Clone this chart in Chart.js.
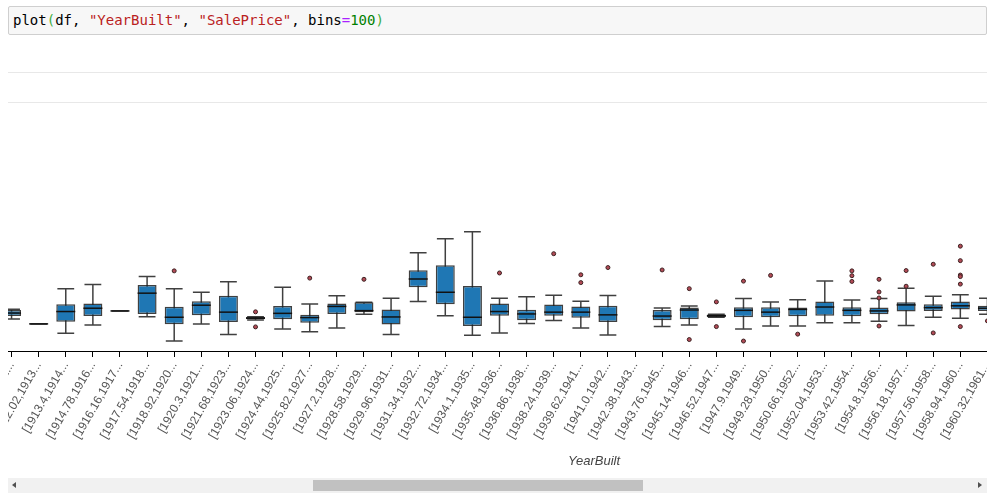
<!DOCTYPE html>
<html>
<head>
<meta charset="utf-8">
<script src="https://cdn.jsdelivr.net/npm/chart.js@4.4.1/dist/chart.umd.min.js"></script>
<style>
	body { margin: 0; background: #fff; width: 989px; height: 497px; overflow: hidden; position: relative; }
	.cell { position: absolute; left: 8px; top: 6px; width: 977px; height: 27px; background: #f7f7f7; border: 1px solid #cfcfcf; border-radius: 2px; }
	.code { position: absolute; left: 4px; top: 5px; font: 14px "DejaVu Sans Mono", monospace; color: #000; white-space: pre; }
	.s { color: #ba2121; } .o { color: #aa22ff; } .n { color: #008000; } .p { color: #3fae3f; }
	.rule { position: absolute; left: 8px; width: 979px; height: 1px; background: #e8e8e8; }
	#plotBox { position: absolute; left: 8px; top: 105px; width: 979px; height: 370px; overflow: hidden; }
	#plotBox canvas { position: absolute; left: -9.55px; top: 5px; }
	.xtitle { position: absolute; left: 568px; top: 453px; font: italic 13px "Liberation Sans", Arial, sans-serif; color: #444; }
	.scroll { position: absolute; left: 8px; top: 478px; width: 979px; height: 15px; background: #f1f1f1; }
	.thumb { position: absolute; left: 305px; top: 2px; width: 330px; height: 11px; background: #c1c1c1; }
	.arrL { position: absolute; left: 4px; top: 4px; width: 0; height: 0; border-top: 3.5px solid transparent; border-bottom: 3.5px solid transparent; border-right: 4px solid #505050; }
	.arrR { position: absolute; right: 5px; top: 4px; width: 0; height: 0; border-top: 3.5px solid transparent; border-bottom: 3.5px solid transparent; border-left: 4px solid #505050; }
</style>
</head>
<body>
<div class="cell"><div class="code">plot<span class="p">(</span>df, <span class="s">"YearBuilt"</span>, <span class="s">"SalePrice"</span>, bins<span class="o">=</span><span class="n">100</span><span class="p">)</span></div></div>
<div class="rule" style="top:72px"></div>
<div class="rule" style="top:102px"></div>
<div id="plotBox"><canvas id="boxChart" width="1003" height="362" style="width:1003px;height:362px"></canvas></div>
<div class="xtitle">YearBuilt</div>
<div class="scroll"><div class="arrL"></div><div class="thumb"></div><div class="arrR"></div></div>
<script>
// Bin label YearBuilt (terpotong seperti di gambar)
const binLabels = [
	'[1910.64,1912...', '[1912.02,1913...', '[1913.4,1914...', '[1914.78,1916...', '[1916.16,1917...',
	'[1917.54,1918...', '[1918.92,1920...', '[1920.3,1921...', '[1921.68,1923...', '[1923.06,1924...',
	'[1924.44,1925...', '[1925.82,1927...', '[1927.2,1928...', '[1928.58,1929...', '[1929.96,1931...',
	'[1931.34,1932...', '[1932.72,1934...', '[1934.1,1935...', '[1935.48,1936...', '[1936.86,1938...',
	'[1938.24,1939...', '[1939.62,1941...', '[1941.0,1942...', '[1942.38,1943...', '[1943.76,1945...',
	'[1945.14,1946...', '[1946.52,1947...', '[1947.9,1949...', '[1949.28,1950...', '[1950.66,1952...',
	'[1952.04,1953...', '[1953.42,1954...', '[1954.8,1956...', '[1956.18,1957...', '[1957.56,1958...',
	'[1958.94,1960...', '[1960.32,1961...'
];

// Statistik boxplot SalePrice per bin
const lowWhisker = [106000, 90000, 59000, 86000, 133000, 114000, 33000, 90000, 55000, 103000, 73000, 64000, 76000, 122000, 55000, 164000, 117000, 52000, 60000, 91000, 101000, 76000, 53000, null, 81000, 86000, 112000, 73000, 83000, 83000, 94000, 94000, 99000, 85000, 112000, 109000, 122000];
const lowerQuartile = [116000, 90000, 97000, 116000, 133000, 123000, 89000, 119000, 96000, 105000, 105000, 94000, 123000, 129000, 88000, 212000, 155000, 83000, 117000, 102000, 117000, 110000, 96000, null, 102000, 105000, 112000, 112000, 112000, 115000, 117000, 115000, 122000, 131000, 133000, 138000, 133000];
const medians = [126000, 90000, 131000, 142000, 133000, 192000, 112000, 152000, 129000, 109000, 125000, 111000, 148000, 134000, 113000, 239000, 195000, 112000, 131000, 123000, 129000, 129000, 120000, null, 116000, 136000, 117000, 135000, 129000, 138000, 146000, 135000, 133000, 153000, 144000, 150000, 142000];
const upperQuartile = [136000, 90000, 155000, 158000, 133000, 219000, 147000, 165000, 183000, 113000, 149000, 120000, 158000, 162000, 138000, 268000, 285000, 216000, 158000, 137000, 154000, 148000, 150000, null, 136000, 144000, 121000, 145000, 145000, 144000, 164000, 145000, 144000, 162000, 155000, 164000, 150000];
const highWhisker = [139000, 90000, 207000, 221000, 133000, 247000, 207000, 195000, 230000, 114000, 212000, 156000, 183000, 162000, 175000, 326000, 373000, 396000, 175000, 180000, 185000, 165000, 184000, null, 143000, 149000, 122000, 174000, 163000, 170000, 232000, 169000, 174000, 208000, 182000, 187000, 175000];

// Outlier: indeks bin dan nilainya
const outlierBins = [6, 9, 9, 11, 13, 18, 20, 21, 21, 22, 24, 25, 25, 26, 26, 27, 27, 28, 29, 31, 31, 31, 32, 32, 32, 32, 33, 33, 34, 34, 35, 35, 35, 35, 35, 35, 36];
const outlierPrices = [266000, 130000, 80000, 242000, 238000, 259000, 323000, 253000, 227000, 277000, 269000, 207000, 38000, 163000, 81000, 232000, 33000, 251000, 56000, 266000, 250000, 231000, 238000, 196000, 176000, 83000, 267000, 215000, 288000, 60000, 348000, 300000, 252000, 247000, 222000, 81000, 100000];

const boxColor = '#1f77b4';
const lineColor = 'rgba(30,30,30,0.85)';

// Plugin untuk menggambar whisker, cap dan median memakai skala Chart.js
const whiskerPlugin = {
	id: 'whiskerPlugin',
	beforeDatasetsDraw(chart) {
		const x = chart.scales.x, y = chart.scales.y, ctx = chart.ctx;
		const capHalf = (x.getPixelForValue(1) - x.getPixelForValue(0)) * 0.31;
		ctx.save();
		ctx.strokeStyle = lineColor;
		ctx.lineWidth = 1.5;
		binLabels.forEach((lab, i) => {
			if (lowWhisker[i] === null) return;
			const px = x.getPixelForValue(i);
			const yLo = y.getPixelForValue(lowWhisker[i]);
			const yHi = y.getPixelForValue(highWhisker[i]);
			ctx.beginPath();
			ctx.moveTo(px, yLo); ctx.lineTo(px, yHi);
			ctx.moveTo(px - capHalf, yLo); ctx.lineTo(px + capHalf, yLo);
			ctx.moveTo(px - capHalf, yHi); ctx.lineTo(px + capHalf, yHi);
			ctx.stroke();
		});
		ctx.restore();
	},
	afterDatasetsDraw(chart) {
		const x = chart.scales.x, y = chart.scales.y, ctx = chart.ctx;
		const half = (x.getPixelForValue(1) - x.getPixelForValue(0)) * 0.35;
		ctx.save();
		ctx.strokeStyle = '#111';
		ctx.lineWidth = 1.5;
		binLabels.forEach((lab, i) => {
			if (medians[i] === null) return;
			const px = x.getPixelForValue(i);
			const py = y.getPixelForValue(medians[i]);
			ctx.beginPath();
			ctx.moveTo(px - half, py); ctx.lineTo(px + half, py);
			ctx.stroke();
		});
		ctx.restore();
	}
};

document.addEventListener('DOMContentLoaded', function() {
	const boxData = lowerQuartile.map((q1, i) => q1 === null ? null : [q1, upperQuartile[i]]);
	const outlierData = outlierBins.map((b, i) => ({ x: binLabels[b], y: outlierPrices[i] }));

	new Chart(document.getElementById('boxChart').getContext('2d'), {
		type: 'bar',
		data: {
			labels: binLabels,
			datasets: [{
				label: 'SalePrice',
				data: boxData,
				backgroundColor: boxColor,
				borderColor: lineColor,
				borderWidth: 1.5,
				borderSkipped: false,
				categoryPercentage: 1.0,
				barPercentage: 0.7,
				order: 2
			}, {
				type: 'line',
				label: 'outlier',
				data: outlierData,
				showLine: false,
				pointRadius: 2,
				pointBackgroundColor: '#b24a56',
				pointBorderColor: '#3d2222',
				pointBorderWidth: 1,
				order: 1
			}]
		},
		options: {
			responsive: false,
			animation: false,
			layout: { padding: 0, autoPadding: false },
			plugins: {
				legend: { display: false },
				tooltip: { enabled: false }
			},
			scales: {
				x: {
					offset: true,
					grid: { offset: false, drawOnChartArea: false, tickLength: 6, color: '#000', lineWidth: 1 },
					border: { color: '#000', width: 1 },
					ticks: {
						minRotation: 60,
						maxRotation: 60,
						autoSkip: false,
						padding: 2,
						color: '#555',
						font: { family: 'Liberation Sans', size: 12 }
					},
					afterFit: function(scale) {
						// buang padding label miring supaya posisi kategori tetap
						scale.paddingLeft = 0;
						scale.paddingRight = 0;
						scale.height = 121;
					}
				},
				y: {
					display: false,
					min: 0,
					max: 800000
				}
			}
		},
		plugins: [whiskerPlugin]
	});
});
</script>
</body>
</html>
